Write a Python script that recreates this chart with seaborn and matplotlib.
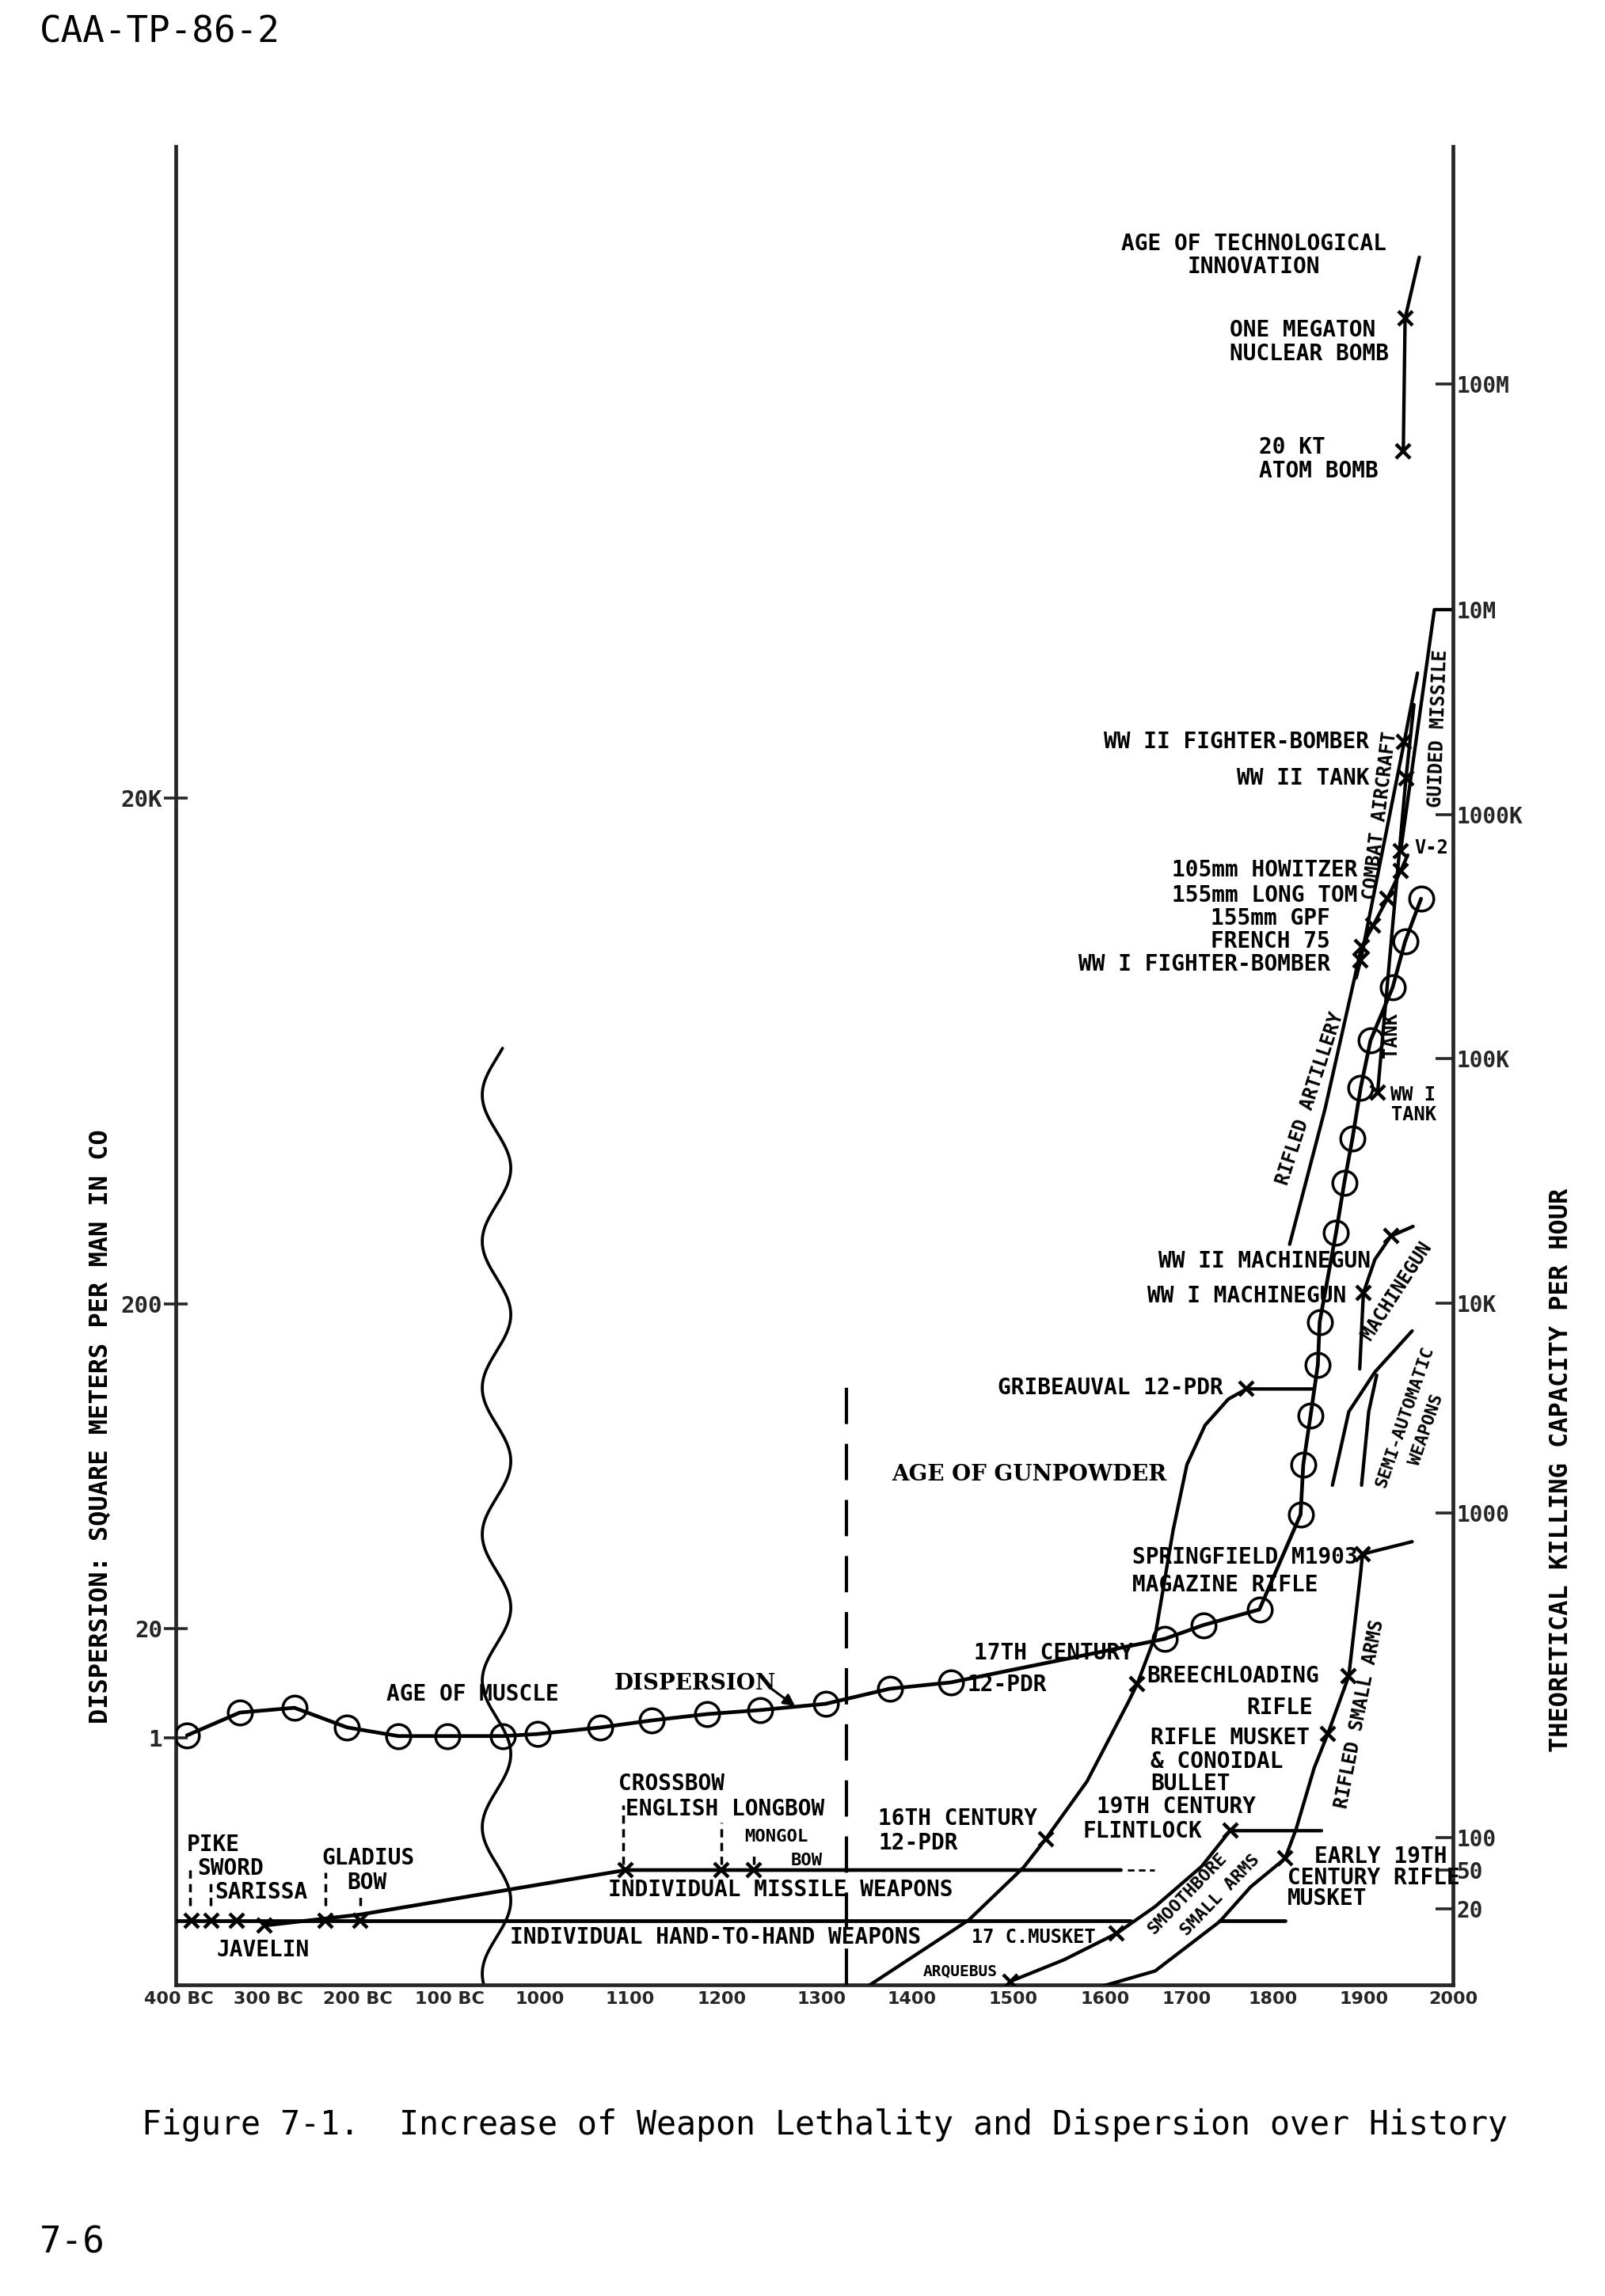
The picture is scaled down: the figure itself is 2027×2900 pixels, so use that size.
import numpy as np
import matplotlib
matplotlib.use("Agg")
import matplotlib.pyplot as plt
import matplotlib.transforms as mtransforms
import seaborn as sns

W, H = 2027, 2900

# ---- axis scales -----------------------------------------------------------
# x: year (negative = BC) -> position on the page
year_knots = [-1000, -400, -300, -200, -100, 1000, 1100, 1200, 1300, 1400,
              1500, 1600, 1700, 1800, 1900, 2000, 3000]
xpix_knots = [-452, 226, 339, 452, 568, 682, 796, 912, 1038, 1152,
              1280, 1396, 1499, 1608, 1723, 1835, 2955]
tick_years = [-400, -300, -200, -100, 1000, 1100, 1200, 1300, 1400, 1500,
              1600, 1700, 1800, 1900, 2000]
tick_names = ['400 BC', '300 BC', '200 BC', '100 BC', '1000', '1100', '1200',
              '1300', '1400', '1500', '1600', '1700', '1800', '1900', '2000']

# left axis: dispersion (sq m per man), uneven printed log scale
disp_log_knots = [-3, 0, 1.301, 2.301, 4.301, 7.0]
disp_pix_knots = [2513, 2195, 2057, 1647, 1008, 146]
disp_ticks = [1, 20, 200, 20000]
disp_tick_names = ['1', '20', '200', '20K']

# right axis: theoretical killing capacity per hour
kill_log_knots = [0, 1.301, 1.699, 2, 3, 4, 5, 6, 7, 8, 9.5]
kill_pix_knots = [2571, 2411, 2362, 2321, 1911, 1646, 1337, 1029, 770, 485, 57]
kill_ticks = [20, 50, 100, 1000, 1e4, 1e5, 1e6, 1e7, 1e8]
kill_tick_names = ['20', '50', '100', '1000', '10K', '100K', '1000K', '10M', '100M']

# ---- data -----------------------------------------------------------------
disp_year = [-391, -332, -271, -212, -156, -103, 546, 971, 1067, 1123, 1184,
             1238, 1304, 1375, 1438, 1673, 1719, 1784, 1830, 1833, 1841, 1849,
             1851, 1869, 1878, 1887, 1896, 1907, 1932, 1946, 1964]
disp_val = [1.07, 2.0, 2.28, 1.33, 1.05, 1.05, 1.05, 1.11, 1.33, 1.61, 1.92,
            2.14, 2.54, 3.84, 4.57, 15.1, 20.5, 22.9, 44.9, 64, 90.6, 130,
            176, 383, 603, 902, 1430, 2200, 3570, 5420, 8000]

melee_year = [-386, -364, -335, -304, -236, -197]
melee_val = [15, 15, 15, 13.5, 15, 15]
h2h_year = [-404, 1631]
h2h_val = [15, 15]
h2h_tail_year = [1738, 1813]
h2h_tail_val = [15, 15]

missile_year = [-304, -197, 1095, 1199, 1232, 1619]
missile_val = [13.5, 17.5, 50, 50, 50, 50]
missile_mark_year = [1095, 1199, 1232]
missile_mark_val = [50, 50, 50]
missile_tail_year = [1627, 1660]
missile_tail_val = [50, 50]

leader_year = [-388, -365, -236, -197, 1092, 1199, 1232]
leader_lo = [21.5, 21.5, 21.5, 21.5, 56, 56, 56]
leader_hi = [56, 37, 47, 27, 126, 111, 75]

art_year = [1353, 1456, 1511, 1535, 1580, 1628, 1639, 1661, 1683, 1700, 1721,
            1748, 1769, 1845]
art_val = [3.3, 15.4, 53, 97, 149, 261, 297, 417, 883, 1700, 2620, 3490,
           3900, 3900]
art_mark_year = [1535, 1639, 1769]
art_mark_val = [97, 297, 3900]

sb_year = [1497, 1555, 1614, 1661, 1717, 1750, 1853]
sb_val = [3.6, 6.0, 11.2, 21.1, 54, 105, 105]
sb_mark_year = [1497, 1614, 1750]
sb_mark_val = [3.6, 11.2, 105]

rs_year = [1591, 1661, 1738, 1774, 1813, 1825, 1845, 1860, 1883, 1896, 1898, 1954]
rs_val = [3.1, 4.6, 14.8, 33.7, 64, 106, 164, 209, 315, 653, 747, 816]
rs_mark_year = [1813, 1860, 1883, 1898]
rs_mark_val = [64, 209, 315, 747]

semi1_year = [1865, 1883, 1912, 1954]
semi1_val = [1356, 3040, 4700, 7380]
semi2_year = [1897, 1905, 1914]
semi2_val = [1356, 3040, 4540]

mg_year = [1895, 1899, 1912, 1930, 1955]
mg_val = [4860, 11000, 15100, 18800, 20600]
mg_mark_year = [1899, 1930]
mg_mark_val = [11000, 18800]

ra_year = [1818, 1857, 1897, 1910, 1926, 1941, 1949]
ra_val = [17400, 62500, 287000, 351000, 453000, 589000, 683000]
ra_mark_year = [1897, 1910, 1926, 1941]
ra_mark_val = [287000, 351000, 453000, 589000]

ca_year = [1891, 1896, 1945, 1960]
ca_val = [214000, 253000, 2.26e6, 4.91e6]
ca_mark_year = [1896, 1945]
ca_mark_val = [253000, 2.26e6]

tank_year = [1915, 1947, 1956]
tank_val = [72600, 1.51e6, 3.44e6]
tank_mark_year = [1915, 1947]
tank_mark_val = [72600, 1.51e6]

gm_year = [1941, 1979, 2000]
gm_val = [7.1e5, 1e7, 1e7]

nuc_year = [1962, 1946, 1944]
nuc_val = [3.64e8, 1.95e8, 5.03e7]
nuc_mark_year = [1946, 1944]
nuc_mark_val = [1.95e8, 5.03e7]

gunpowder_year = 1327
gunpowder_top = 4910
break_year = 470


# ---- scale helpers ----------------------------------------------------------
def xf(v):
    return np.interp(v, year_knots, xpix_knots)


def xi(p):
    return np.interp(p, xpix_knots, year_knots)


def make_yscale(logk, pix):
    neg = -np.asarray(pix, dtype=float)

    def fwd(v):
        return np.interp(np.log10(np.clip(v, 1e-12, None)), logk, neg)

    def inv(h):
        return 10 ** np.interp(h, neg, logk)
    return fwd, inv


disp_f, disp_i = make_yscale(disp_log_knots, disp_pix_knots)
kill_f, kill_i = make_yscale(kill_log_knots, kill_pix_knots)

sns.set_style("white")
plt.rcParams['font.family'] = ['DejaVu Sans Mono', 'DejaVu Sans']

fig = plt.figure(figsize=(W / 100, H / 100), dpi=100)
x0, x1, ytop, ybot = 222, 1835, 185, 2507
ax = fig.add_axes([x0 / W, 1 - ybot / H, (x1 - x0) / W, (ybot - ytop) / H])
ax.set_xscale('function', functions=(xf, xi))
ax.set_yscale('function', functions=(disp_f, disp_i))
ax2 = ax.twinx()
ax2.set_xscale('function', functions=(xf, xi))
ax2.set_yscale('function', functions=(kill_f, kill_i))
ax.set_xlim(xi(x0), xi(x1))
ax.set_ylim(disp_i(-ybot), disp_i(-ytop))
ax2.set_ylim(kill_i(-ybot), kill_i(-ytop))

LW = 3.4
MK = dict(ls='none', marker='x', ms=13, mew=3.2, color='black', zorder=5)


def trace(a, xs, ys, lw=LW, **kw):
    sns.lineplot(x=xs, y=ys, ax=a, sort=False, estimator=None, color='black',
                 linewidth=lw, legend=False, **kw)


# dispersion
trace(ax, disp_year, disp_val)
ax.plot(disp_year, disp_val, ls='none', marker='o', ms=22, mfc='none',
        mec='black', mew=2.5, zorder=5)

# weapons
trace(ax2, h2h_year, h2h_val)
trace(ax2, h2h_tail_year, h2h_tail_val)
ax2.plot(melee_year, melee_val, **MK)
trace(ax2, missile_year, missile_val)
trace(ax2, missile_tail_year, missile_tail_val, lw=2, linestyle=(0, (3, 2)))
ax2.plot(missile_mark_year, missile_mark_val, **MK)
ax2.vlines(leader_year, leader_lo, leader_hi, colors='black', lw=2.5,
           linestyles=(0, (3, 2)))

for xs, ys in [(art_year, art_val), (sb_year, sb_val), (rs_year, rs_val),
               (semi1_year, semi1_val), (semi2_year, semi2_val),
               (mg_year, mg_val), (ra_year, ra_val), (ca_year, ca_val),
               (tank_year, tank_val), (gm_year, gm_val), (nuc_year, nuc_val)]:
    trace(ax2, xs, ys, lw=3.1)
for xs, ys in [(art_mark_year, art_mark_val), (sb_mark_year, sb_mark_val),
               (rs_mark_year, rs_mark_val), (mg_mark_year, mg_mark_val),
               (ra_mark_year, ra_mark_val), (ca_mark_year, ca_mark_val),
               (tank_mark_year, tank_mark_val), (gm_year[:1], gm_val[:1]),
               (nuc_mark_year, nuc_mark_val)]:
    ax2.plot(xs, ys, **MK)

# age of gunpowder boundary
ax2.vlines(gunpowder_year, kill_i(-ybot), gunpowder_top, colors='black', lw=3,
           linestyles=(0, (11, 6)))

# wavy break between BC and AD
wy = np.linspace(0, 0.5095, 400)
wpix = ybot - wy * (ybot - ytop)
wx = xi(xf(break_year) + 18 * np.cos(2 * np.pi * (wpix - 1383) / 185 + np.pi))
ax.plot(wx, wy, color='black', lw=2.7,
        transform=mtransforms.blended_transform_factory(ax.transData, ax.transAxes))

# arrow from DISPERSION label
ax.annotate('', xy=(1275, 2.3), xytext=(1245, 4.2),
            arrowprops=dict(arrowstyle='-|>', color='black', lw=2.2,
                            mutation_scale=22))

# ---- axes styling -----------------------------------------------------------
for s in ['top', 'right']:
    ax.spines[s].set_visible(False)
for s in ['top', 'left', 'bottom']:
    ax2.spines[s].set_visible(False)
for s in ['left', 'bottom']:
    ax.spines[s].set_linewidth(3.4)
ax2.spines['right'].set_linewidth(3.4)

ax.set_xticks(tick_years)
ax.set_xticklabels(tick_names)
ax.set_yticks(disp_ticks)
ax.set_yticklabels(disp_tick_names)
ax2.set_yticks(kill_ticks)
ax2.set_yticklabels(kill_tick_names)
ax.minorticks_off()
ax2.minorticks_off()
ax.tick_params(axis='x', direction='in', length=12, width=2.2, pad=6,
               labelsize=16)
ax.tick_params(axis='y', direction='inout', length=22, width=2.6, pad=1,
               labelsize=21)
ax2.tick_params(axis='y', direction='in', length=16, width=2.6, pad=3,
                labelsize=20)
for t in ax.get_xticklabels():
    t.set_fontfamily(['Liberation Sans Narrow', 'DejaVu Sans'])
    t.set_fontweight('bold')
for t in ax.get_yticklabels() + ax2.get_yticklabels():
    t.set_fontweight('bold')
ax.set_xlabel('')
ax.set_ylabel('')
ax2.set_ylabel('')


def label(x, y, s, size=20, ha='left', rot=0, family='DejaVu Sans Mono',
          weight='bold'):
    fig.text(x / W, 1 - y / H, s, ha=ha, va='center', rotation=rot,
             rotation_mode='anchor', fontsize=size, family=family,
             fontweight=weight, color='black')


# page furniture
label(50, 41, 'CAA-TP-86-2', size=33, weight='normal')
label(179, 2684, 'Figure 7-1.  Increase of Weapon Lethality and Dispersion over History',
      size=30, weight='normal')
label(50, 2833, '7-6', size=33, weight='normal')
label(127, 1802, 'DISPERSION: SQUARE METERS PER MAN IN CO', size=23, ha='center', rot=90)
label(1972, 1857, 'THEORETICAL KILLING CAPACITY PER HOUR', size=23, ha='center', rot=90)

# annotations
label(1583, 308, 'AGE OF TECHNOLOGICAL', ha='center')
label(1583, 337, 'INNOVATION', ha='center')
label(1553, 417, 'ONE MEGATON')
label(1553, 447, 'NUCLEAR BOMB')
label(1590, 565, '20 KT')
label(1590, 595, 'ATOM BOMB')
label(1729, 937, 'WW II FIGHTER-BOMBER', ha='right')
label(1729, 983, 'WW II TANK', ha='right')
label(1714, 1099, '105mm HOWITZER', ha='right')
label(1714, 1131, '155mm LONG TOM', ha='right')
label(1680, 1160, '155mm GPF', ha='right')
label(1680, 1189, 'FRENCH 75', ha='right')
label(1680, 1218, 'WW I FIGHTER-BOMBER', ha='right')
label(1786, 1071, 'V-2', size=17)
label(1784, 1383, 'WW I', size=17, ha='center')
label(1786, 1408, 'TANK', size=17, ha='center')
label(1655, 1387, 'RIFLED ARTILLERY', size=17, ha='center', rot=72)
label(1743, 1030, 'COMBAT AIRCRAFT', size=17, ha='center', rot=83)
label(1757, 1308, 'TANK', size=17, ha='center', rot=90)
label(1816, 920, 'GUIDED MISSILE', size=17, ha='center', rot=88)
label(1731, 1593, 'WW II MACHINEGUN', ha='right')
label(1700, 1637, 'WW I MACHINEGUN', ha='right')
label(1764, 1630, 'MACHINEGUN', size=17, ha='center', rot=57)
label(1774, 1790, 'SEMI-AUTOMATIC', size=16, ha='center', rot=71)
label(1802, 1806, 'WEAPONS', size=16, ha='center', rot=71)
label(1545, 1753, 'GRIBEAUVAL 12-PDR', ha='right')
label(1126, 1863, 'AGE OF GUNPOWDER', size=20, family='DejaVu Serif')
label(776, 2127, 'DISPERSION', size=20, family='DejaVu Serif')
label(1430, 1967, 'SPRINGFIELD M1903')
label(1430, 2002, 'MAGAZINE RIFLE')
label(1230, 2088, '17TH CENTURY')
label(1222, 2128, '12-PDR')
label(1448, 2117, 'BREECHLOADING')
label(1574, 2157, 'RIFLE')
label(1453, 2195, 'RIFLE MUSKET')
label(1453, 2225, '& CONOIDAL')
label(1453, 2253, 'BULLET')
label(1717, 2165, 'RIFLED SMALL ARMS', size=17, ha='center', rot=79)
label(488, 2140, 'AGE OF MUSCLE')
label(781, 2253, 'CROSSBOW')
label(790, 2285, 'ENGLISH LONGBOW')
label(940, 2320, 'MONGOL', size=16)
label(999, 2350, 'BOW', size=16)
label(1109, 2297, '16TH CENTURY')
label(1109, 2328, '12-PDR')
label(1385, 2282, '19TH CENTURY')
label(1367, 2313, 'FLINTLOCK')
label(1660, 2345, 'EARLY 19TH')
label(1626, 2372, 'CENTURY RIFLE')
label(1626, 2398, 'MUSKET')
label(768, 2387, 'INDIVIDUAL MISSILE WEAPONS')
label(644, 2447, 'INDIVIDUAL HAND-TO-HAND WEAPONS')
label(1227, 2447, '17 C.MUSKET', size=17)
label(1166, 2490, 'ARQUEBUS', size=14)
label(1500, 2392, 'SMOOTHBORE', size=16, ha='center', rot=46)
label(1541, 2394, 'SMALL ARMS', size=16, ha='center', rot=46)
label(236, 2330, 'PIKE')
label(249, 2360, 'SWORD')
label(271, 2390, 'SARISSA')
label(274, 2463, 'JAVELIN')
label(406, 2347, 'GLADIUS')
label(438, 2378, 'BOW')

fig.savefig('out.png', dpi=100, facecolor='white')
